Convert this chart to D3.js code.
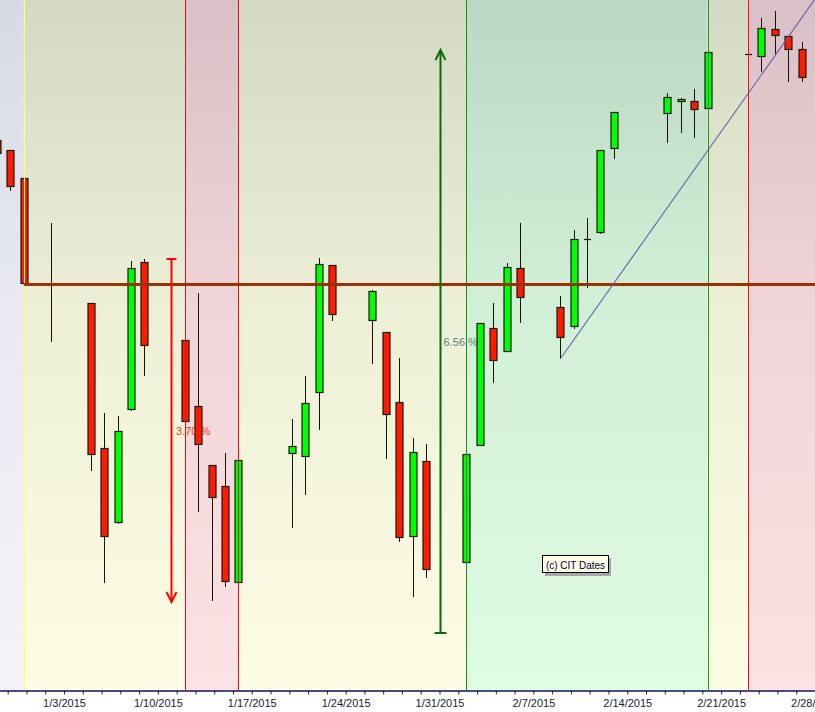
<!DOCTYPE html>
<html><head><meta charset="utf-8">
<script src="https://cdn.jsdelivr.net/npm/d3@7"></script>
<style>body{margin:0;background:#fff;} svg{display:block;}</style>
</head><body><svg id="c" width="815" height="712"></svg>
<script>
// ---- data ----
const dates = ["2014-12-29","2014-12-30","2014-12-31","2015-01-02","2015-01-05","2015-01-06","2015-01-07","2015-01-08","2015-01-09","2015-01-12","2015-01-13","2015-01-14","2015-01-15","2015-01-16","2015-01-20","2015-01-21","2015-01-22","2015-01-23","2015-01-26","2015-01-27","2015-01-28","2015-01-29","2015-01-30","2015-02-02","2015-02-03","2015-02-04","2015-02-05","2015-02-06","2015-02-09","2015-02-10","2015-02-11","2015-02-12","2015-02-13","2015-02-17","2015-02-18","2015-02-19","2015-02-20","2015-02-23","2015-02-24","2015-02-25","2015-02-26","2015-02-27"];
const opens  = [2098.28,2096.05,2089.78,2066.10,2061.82,2029.38,2012.83,2038.11,2070.99,2053.54,2038.78,2025.58,2020.88,1999.41,2028.27,2027.59,2041.91,2070.32,2058.02,2055.33,2039.67,2009.70,2026.48,2003.88,2030.06,2056.23,2051.08,2069.65,2060.93,2056.68,2076.14,2077.70,2096.49,2104.32,2107.01,2107.01,2105.44,2117.52,2117.07,2123.11,2121.55,2118.64];
const highs  = [2099.18,2096.05,2089.78,2079.72,2061.82,2037.21,2036.54,2071.22,2071.66,2053.54,2064.06,2025.58,2028.27,2026.70,2035.87,2045.49,2071.89,2070.32,2064.73,2055.33,2049.52,2031.62,2030.28,2028.04,2057.35,2061.82,2070.77,2079.72,2063.39,2078.15,2080.84,2096.05,2104.55,2108.80,2107.68,2109.69,2117.97,2117.52,2125.58,2127.14,2121.55,2120.21];
const lows   = [2094.70,2086.88,2066.30,2053.10,2024.24,1999.19,2012.38,2037.66,2045.49,2035.42,2015.07,1995.16,1998.29,1999.41,2011.49,2018.87,2033.41,2057.79,2048.18,2026.92,2008.36,1996.05,2000.30,2003.88,2029.83,2043.93,2050.86,2057.35,2049.29,2056.00,2065.18,2077.26,2094.03,2097.61,2099.85,2098.73,2105.44,2117.52,2113.50,2117.52,2111.26,2111.26];
const closes = [2095.38,2088.00,2066.30,2066.10,2028.04,2009.70,2033.19,2069.65,2052.43,2035.42,2030.28,2018.42,1999.63,2026.70,2029.83,2039.45,2070.55,2059.36,2064.51,2036.99,2009.48,2028.49,2002.32,2028.04,2057.35,2049.07,2069.87,2063.16,2054.22,2076.14,2076.14,2096.05,2104.55,2107.90,2107.46,2105.22,2117.97,2117.52,2123.34,2121.77,2118.64,2112.38];

const tickLabels = ["1/3/2015","1/10/2015","1/17/2015","1/24/2015","1/31/2015","2/7/2015","2/14/2015","2/21/2015","2/28/2015"];

// background zones
const zoneStarts = ["2014-12-20","2014-12-31","2015-01-12","2015-01-16","2015-02-02","2015-02-20","2015-02-23"];
const zoneEnds   = ["2014-12-31","2015-01-12","2015-01-16","2015-02-02","2015-02-20","2015-02-23","2015-03-10"];
const zoneKinds  = ["neutral","yellow","pink","yellow","green","yellow","pink"];

// vertical marker lines
const markerDates  = ["2014-12-31","2015-01-12","2015-01-16","2015-02-02","2015-02-20","2015-02-23"];
const markerColors = ["#ffff66","#e01010","#e01010","#1a8c1a","#1a9a1a","#ee1111"];

const levelPrice = 2066.1;          // horizontal brown line
const levelStart = "2014-12-31";
const trendDates  = ["2015-02-09","2015-03-01"];
const trendPrices = [2049.29, 2134.05];

// ---- setup ----
const parse = d3.timeParse("%Y-%m-%d");
const W = 815, H = 712, plotBottom = 690;
const svg = d3.select("#c");

const x = d3.scaleTime()
  .domain([parse("2014-12-29"), parse("2015-02-28")])
  .range([-3.05, 815]);
const y = d3.scaleLinear().domain([1975.25, 2129.6]).range([plotBottom, 0]);

const defs = svg.append("defs");
const grads = {
  neutral: ["#d5dae4", "#f3f4f7"],
  yellow:  ["#d4d9c2", "#fdfde4"],
  pink:    ["#d8c0c6", "#fde2e3"],
  green:   ["#bcd8c4", "#e0fde2"]
};
Object.entries(grads).forEach(([k, c]) => {
  const g = defs.append("linearGradient").attr("id", "g_" + k)
    .attr("x1", 0).attr("y1", 0).attr("x2", 0).attr("y2", 1);
  g.append("stop").attr("offset", "0%").attr("stop-color", c[0]);
  g.append("stop").attr("offset", "45%").attr("stop-color", d3.interpolateRgb(c[0], c[1])(0.62));
  g.append("stop").attr("offset", "100%").attr("stop-color", c[1]);
});

svg.append("rect").attr("width", W).attr("height", H).attr("fill", "#fff");

// zones
svg.append("g").selectAll("rect").data(zoneKinds).join("rect")
  .attr("x", (d, i) => x(parse(zoneStarts[i])))
  .attr("width", (d, i) => x(parse(zoneEnds[i])) - x(parse(zoneStarts[i])))
  .attr("y", 0).attr("height", plotBottom)
  .attr("fill", d => "url(#g_" + d + ")");

// percent labels (under candles)
svg.append("text").attr("x", x(new Date(2015, 0, 12, 15))).attr("y", y(2032.29))
  .attr("text-anchor", "middle").attr("font-family", "Liberation Sans, Arial, sans-serif")
  .attr("font-size", 11).attr("fill", "#ff3a10").text("3.70 %");
svg.append("text").attr("x", x(new Date(2015, 1, 1, 14))).attr("y", y(2052.2))
  .attr("text-anchor", "middle").attr("font-family", "Liberation Sans, Arial, sans-serif")
  .attr("font-size", 11).attr("fill", "#5a7f7a").text("6.56 %");

// candles
const data = dates.map((d, i) => ({ date: parse(d), o: opens[i], h: highs[i], l: lows[i], c: closes[i] }));
const cg = svg.append("g");
const px = d => Math.round(x(d.date)) + 0.5;
cg.selectAll("line.wick").data(data).join("line").attr("class", "wick")
  .attr("x1", px).attr("x2", px)
  .attr("y1", d => y(d.h)).attr("y2", d => y(d.l))
  .attr("stroke", "#141400").attr("stroke-width", 1);
cg.selectAll("rect.body").data(data.filter(d => d.o !== d.c)).join("rect").attr("class", "body")
  .attr("x", d => px(d) - 3.5).attr("width", 7)
  .attr("y", d => Math.round(y(Math.max(d.o, d.c))) + 0.5)
  .attr("height", d => Math.max(1, Math.round(Math.abs(y(d.o) - y(d.c)))))
  .attr("fill", d => d.c > d.o ? "#00ff00" : "#ff1a00")
  .attr("stroke", "#1a1a10").attr("stroke-width", 1.2);
cg.selectAll("line.doji").data(data.filter(d => d.o === d.c)).join("line").attr("class", "doji")
  .attr("x1", d => px(d) - 3.5).attr("x2", d => px(d) + 3.5)
  .attr("y1", d => Math.round(y(d.o)) + 0.5).attr("y2", d => Math.round(y(d.o)) + 0.5)
  .attr("stroke", "#141400").attr("stroke-width", 1.2);

// vertical marker lines
svg.append("g").selectAll("line").data(markerDates).join("line")
  .attr("x1", d => Math.round(x(parse(d))) + 0.5).attr("x2", d => Math.round(x(parse(d))) + 0.5)
  .attr("y1", 0).attr("y2", plotBottom)
  .attr("stroke", (d, i) => markerColors[i]).attr("stroke-width", 1);

// brown level
svg.append("line").attr("x1", x(parse(levelStart))).attr("x2", W)
  .attr("y1", Math.round(y(levelPrice)) + 0.5).attr("y2", Math.round(y(levelPrice)) + 0.5)
  .attr("stroke", "#993300").attr("stroke-width", 3.2);

// trend line
svg.append("line")
  .attr("x1", x(parse(trendDates[0]))).attr("y1", y(trendPrices[0]))
  .attr("x2", x(parse(trendDates[1]))).attr("y2", y(trendPrices[1]))
  .attr("stroke", "#6262a6").attr("stroke-width", 1.1);

// red arrow (1/9 high -> 1/14 low)
{
  const ax = Math.round(x(new Date(2015, 0, 11))) + 0.5;
  const yt = y(2071.66), yb = y(1995.16);
  const g = svg.append("g").attr("stroke", "#ff0000").attr("fill", "none").attr("stroke-width", 2);
  g.append("line").attr("x1", ax).attr("x2", ax).attr("y1", yt).attr("y2", yb + 1);
  g.append("line").attr("x1", ax - 5).attr("x2", ax + 5).attr("y1", yt).attr("y2", yt);
  g.append("path").attr("d", `M${ax - 5},${yb - 9}L${ax},${yb + 1}L${ax + 5},${yb - 9}`);
}
// green arrow
{
  const ax = Math.round(x(new Date(2015, 0, 31))) + 0.5;
  const yt = y(2118.42), yb = y(1988.0);
  const g = svg.append("g").attr("stroke", "#0a6a0a").attr("fill", "none").attr("stroke-width", 2);
  g.append("line").attr("x1", ax).attr("x2", ax).attr("y1", yt).attr("y2", yb);
  g.append("line").attr("x1", ax - 6).attr("x2", ax + 6).attr("y1", yb).attr("y2", yb);
  g.append("path").attr("d", `M${ax - 5},${yt + 10}L${ax},${yt}L${ax + 5},${yt + 10}`);
}

// copyright box
{
  const bx = Math.round(x(new Date(2015, 1, 7, 16))), by = Math.round(y(2005.5));
  svg.append("rect").attr("x", bx + 3).attr("y", by + 3).attr("width", 66).attr("height", 18).attr("fill", "#a8a8a8");
  svg.append("rect").attr("x", bx + 0.5).attr("y", by + 0.5).attr("width", 66).attr("height", 17)
    .attr("fill", "#ffffea").attr("stroke", "#000").attr("stroke-width", 1);
  svg.append("text").attr("x", bx + 4).attr("y", by + 13.5)
    .attr("font-family", "Liberation Sans, Arial, sans-serif").attr("font-size", 11)
    .attr("textLength", 59).attr("lengthAdjust", "spacingAndGlyphs")
    .attr("fill", "#000033").text("(c) CIT Dates");
}

// x axis
const weekStart = parse("2015-01-03");
const dayMs = 864e5;
const minorStep = 1.4 * dayMs;
const tickDates = d3.range(-3, 42).map(k => new Date(+weekStart + k * minorStep));
const labelFor = new Map(tickLabels.map((t, i) => [i * 5, t]));
const axis = d3.axisBottom(x).tickValues(tickDates).tickSize(4).tickSizeOuter(0).tickPadding(5)
  .tickFormat((d, i) => labelFor.get(i - 3) || "");
const ag = svg.append("g").attr("transform", `translate(0,${plotBottom + 0.5})`).call(axis);
ag.select(".domain").attr("stroke", "#10105a").attr("stroke-width", 1.3);
ag.selectAll(".tick line").attr("stroke", "#202040");
ag.selectAll(".tick text").attr("font-family", "Liberation Sans, Arial, sans-serif")
  .attr("font-size", 11).attr("fill", "#1a1a33");
</script>
</body></html>
